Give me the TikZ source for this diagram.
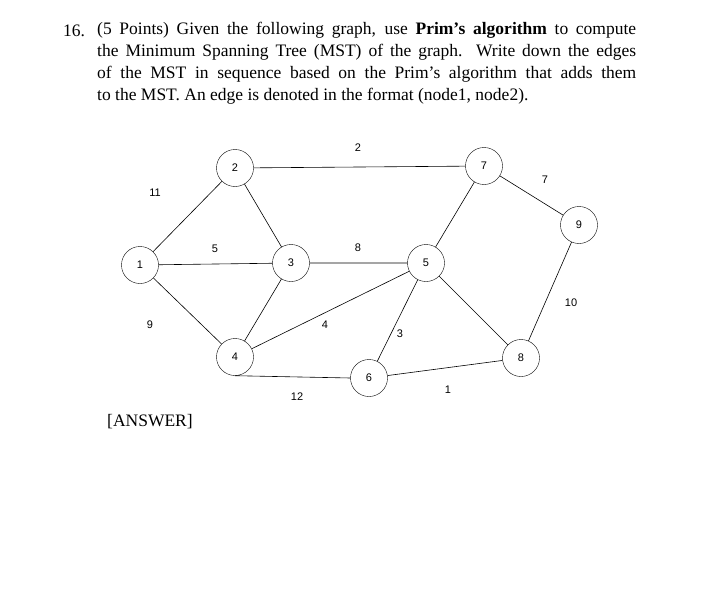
\documentclass[tikz,border=0pt]{standalone}
\usepackage{fontspec}
\setmainfont{Liberation Serif}
\newfontfamily\arial{Liberation Sans}
\begin{document}
\begin{tikzpicture}[x=1pt,y=-1pt,
  vtx/.style={draw,circle,minimum size=37pt,inner sep=0pt,font=\arial\fontsize{11}{12}\selectfont,fill=white},
  wlab/.style={font=\arial\fontsize{11}{12}\selectfont},
  edge/.style={draw,line width=0.6pt}]
\useasboundingbox (0,0) rectangle (714,591);
\node[anchor=base west,font=\fontsize{17.5}{22}\selectfont,inner sep=0] (num) at (63,37) {16.};
\node[anchor=north west,text width=539pt,align=justify,inner sep=0,font=\fontsize{17.5}{22}\selectfont] (q) at (97,22)
 {(5 Points) Given the following graph, use \textbf{Prim's algorithm} to compute\linebreak the Minimum Spanning Tree (MST) of the graph. Write down the edges\linebreak of the MST in sequence based on the Prim's algorithm that adds them\linebreak to the MST. An edge is denoted in the format (node1, node2).};
\node[vtx] (n1) at (140,265) {1};
\node[vtx] (n2) at (235,168) {2};
\node[vtx] (n3) at (291,263) {3};
\node[vtx] (n4) at (235,357) {4};
\node[vtx] (n5) at (426,263) {5};
\node[vtx] (n6) at (369,378) {6};
\node[vtx] (n7) at (484,166) {7};
\node[vtx] (n8) at (521,358) {8};
\node[vtx] (n9) at (579,225) {9};
\path[edge] (n1)--(n2) (n1)--(n3) (n1)--(n4) (n2)--(n3) (n2)--(n7) (n3)--(n5) (n3)--(n4)
 (n4)--(n5) (n4.south)--(n6.west) (n5)--(n6) (n5)--(n7) (n5)--(n8) (n6)--(n8) (n7)--(n9) (n9)--(n8);
\node[wlab] (l11) at (155,193) {11};
\node[wlab] (l5) at (215,249) {5};
\node[wlab] (l9) at (150,325) {9};
\node[wlab] (l2) at (358,148) {2};
\node[wlab] (l8) at (358,248) {8};
\node[wlab] (l4) at (325,325) {4};
\node[wlab] (l3) at (400,334) {3};
\node[wlab] (l12) at (297,397) {12};
\node[wlab] (l1) at (448,390) {1};
\node[wlab] (l7) at (545,180) {7};
\node[wlab] (l10) at (571,303) {10};
\node[anchor=west,font=\fontsize{17.5}{22}\selectfont,inner sep=0] (ans) at (107,422) {[ANSWER]};
\end{tikzpicture}
\end{document}
